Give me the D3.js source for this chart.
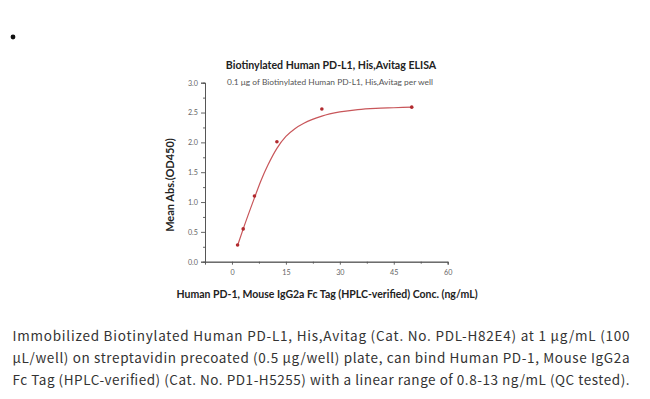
<!DOCTYPE html>
<html lang="en">
<head>
<meta charset="UTF-8">
<title>Biotinylated Human PD-L1 ELISA</title>
<style>
  body { margin: 0; background: #fff; }
  svg { display: block; }
</style>
</head>
<body>
<svg id="chart" width="650" height="399"></svg>
<script src="https://d3js.org/d3.v7.min.js"></script>
<script>
// measured points (ng/mL, OD450)
var concentrations = [1.5625, 3.125, 6.25, 12.5, 25, 50];
var absorbance = [0.28, 0.55, 1.10, 2.01, 2.56, 2.59];

// fitted curve
var fitX = [1.56, 3.13, 6.25, 8, 10, 12.5, 15, 17.5, 20, 25, 30, 35, 40, 45, 50];
var fitY = [0.27, 0.55, 1.07, 1.35, 1.62, 1.90, 2.10, 2.23, 2.32, 2.44, 2.51, 2.55, 2.57, 2.58, 2.59];

var xTicks = [0, 15, 30, 45, 60];
var yTicks = [0, 0.5, 1.0, 1.5, 2.0, 2.5, 3.0];

var title = "Biotinylated Human PD-L1, His,Avitag ELISA";
var subtitle = "0.1 \u03bcg of Biotinylated Human PD-L1, His,Avitag per well";
var xLabel = "Human PD-1, Mouse IgG2a Fc Tag (HPLC-verified) Conc. (ng/mL)";
var yLabel = "Mean Abs.(OD450)";
var caption = [
  "Immobilized Biotinylated Human PD-L1, His,Avitag (Cat. No. PDL-H82E4) at 1 \u03bcg/mL (100",
  "\u03bcL/well) on streptavidin precoated (0.5 \u03bcg/well) plate, can bind Human PD-1, Mouse IgG2a",
  "Fc Tag (HPLC-verified) (Cat. No. PD1-H5255) with a linear range of 0.8-13 ng/mL (QC tested)."
];

var svg = d3.select("#chart");

var x = d3.scaleLinear().domain([-7.5, 60]).range([205, 447.7]);
var y = d3.scaleLinear().domain([0, 3]).range([261.7, 82.7]);

var axisColor = "#555";
var lineColor = "#c8565a";
var dotColor = "#b12a2e";

// bullet
svg.append("circle").attr("cx", 13).attr("cy", 37).attr("r", 2.4).attr("fill", "#111");

// titles
svg.append("text")
  .attr("x", 331).attr("y", 69)
  .attr("text-anchor", "middle")
  .style("font", "bold 10.6px Lato, sans-serif")
  .attr("fill", "#222")
  .text(title);

svg.append("text")
  .attr("x", 330).attr("y", 85)
  .attr("text-anchor", "middle")
  .style("font", "8.4px Lato, sans-serif")
  .attr("fill", "#555")
  .text(subtitle);

// y axis
var yAxis = svg.append("g")
  .attr("transform", "translate(205,0)")
  .call(d3.axisLeft(y).tickValues(yTicks).tickFormat(d3.format(".1f")).tickSize(4).tickPadding(3));
yAxis.append("g")
  .call(d3.axisLeft(y).tickValues(d3.range(0.25, 3, 0.5)).tickFormat("").tickSize(2));

// x axis
var xAxis = svg.append("g")
  .attr("transform", "translate(0,261.7)")
  .call(d3.axisBottom(x).tickValues(xTicks).tickSize(3).tickPadding(5));
xAxis.append("g")
  .call(d3.axisBottom(x).tickValues([7.5, 22.5, 37.5, 52.5]).tickFormat("").tickSize(2));

svg.selectAll(".domain").attr("stroke", axisColor).attr("stroke-width", 0.9);
svg.selectAll(".tick line").attr("stroke", axisColor).attr("stroke-width", 0.9);
svg.selectAll(".tick text")
  .attr("fill", "#666")
  .style("font", "7.2px Lato, sans-serif");

// axis titles
svg.append("text")
  .attr("transform", "translate(174,185) rotate(-90)")
  .attr("text-anchor", "middle")
  .style("font", "bold 11px Lato, sans-serif")
  .attr("fill", "#222")
  .text(yLabel);

svg.append("text")
  .attr("x", 327).attr("y", 298)
  .attr("text-anchor", "middle")
  .style("font", "bold 10.5px Lato, sans-serif")
  .attr("fill", "#222")
  .text(xLabel);

// fit curve
var fit = fitX.map(function(d, i) { return { c: d, v: fitY[i] }; });
var line = d3.line()
  .curve(d3.curveMonotoneX)
  .x(function(d) { return x(d.c); })
  .y(function(d) { return y(d.v); });

svg.append("path")
  .datum(fit)
  .attr("d", line)
  .attr("fill", "none")
  .attr("stroke", lineColor)
  .attr("stroke-width", 1.2);

// points
svg.selectAll(".dot")
  .data(concentrations)
  .enter().append("circle")
  .attr("class", "dot")
  .attr("cx", function(d) { return x(d); })
  .attr("cy", function(d, i) { return y(absorbance[i]); })
  .attr("r", 1.8)
  .attr("fill", dotColor);

// caption, justified line by line
svg.selectAll(".caption")
  .data(caption)
  .enter().append("text")
  .attr("class", "caption")
  .attr("x", 12.5)
  .attr("y", function(d, i) { return 341 + i * 22; })
  .attr("textLength", 617)
  .attr("lengthAdjust", "spacing")
  .style("font", "13.5px 'Noto Sans CJK SC', 'Noto Sans', sans-serif")
  .attr("fill", "#333")
  .text(function(d) { return d; });
</script>
</body>
</html>
